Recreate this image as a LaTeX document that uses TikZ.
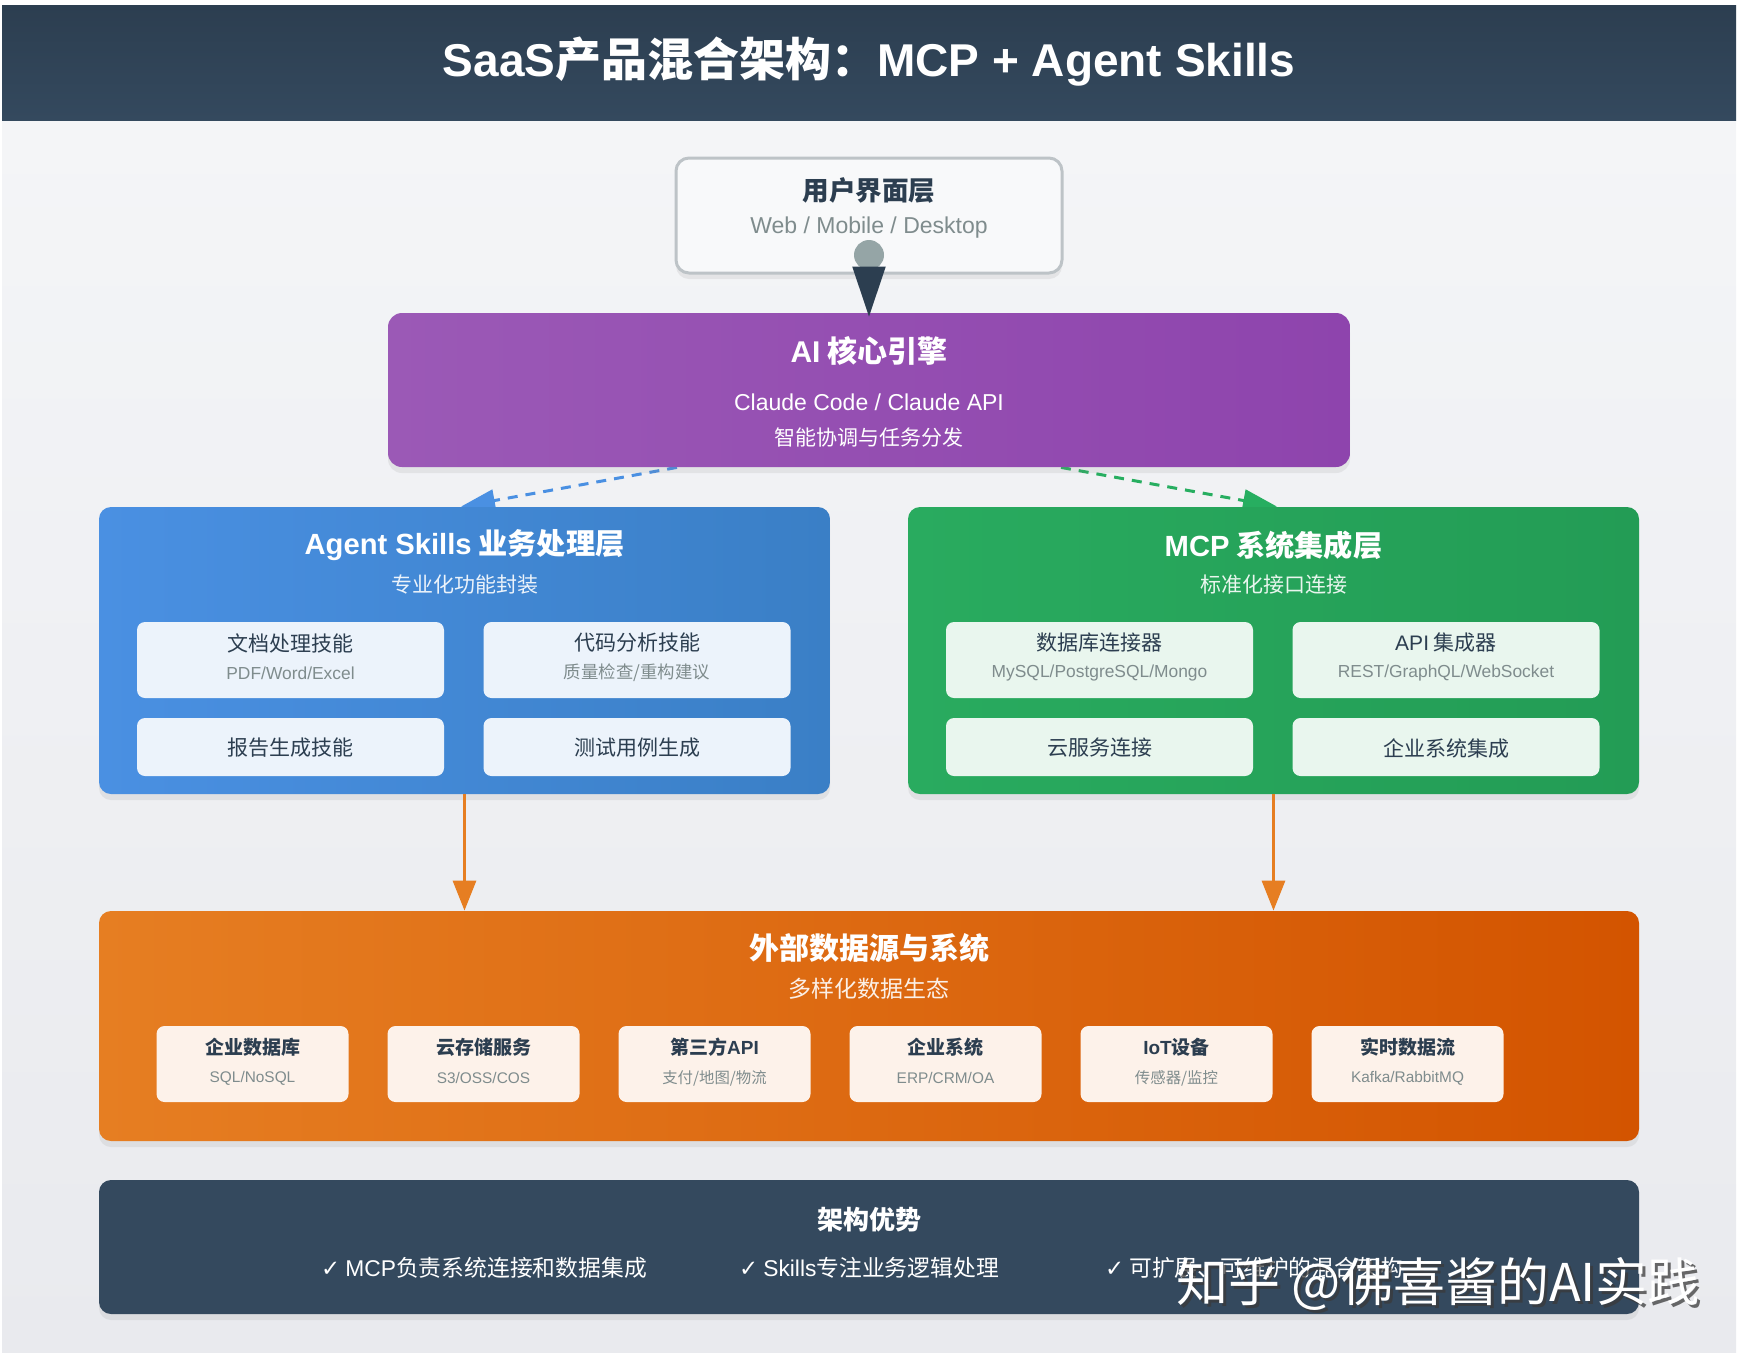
\documentclass[tikz,border=0pt]{standalone}
\usepackage{fontspec}
\setmainfont{Noto Sans CJK SC}
\newfontfamily\symfont{DejaVu Sans}
\newfontfamily\latn{Liberation Sans}
\usetikzlibrary{arrows.meta,shadows,backgrounds}
\definecolor{dark}{HTML}{2C3E50}
\definecolor{darkB}{HTML}{34495E}
\definecolor{graytxt}{HTML}{7F8C8D}
\definecolor{circgray}{HTML}{95A5A6}
\definecolor{uiborder}{HTML}{BDC3C7}
\definecolor{uifill}{HTML}{F8F9FA}
\definecolor{bgtop}{HTML}{F5F6F8}
\definecolor{bgbot}{HTML}{E9EAEE}
\definecolor{purL}{HTML}{9B59B6}
\definecolor{purR}{HTML}{8E44AD}
\definecolor{bluL}{HTML}{4A90E2}
\definecolor{bluR}{HTML}{3A7FC6}
\definecolor{grnL}{HTML}{29AB5F}
\definecolor{grnR}{HTML}{239C55}
\definecolor{orL}{HTML}{E67E22}
\definecolor{orR}{HTML}{D35400}
\definecolor{bluItem}{HTML}{ECF3FB}
\definecolor{grnItem}{HTML}{E9F6EE}
\definecolor{orItem}{HTML}{FDF2EA}
\definecolor{bluLine}{HTML}{4A90E2}
\definecolor{grnLine}{HTML}{27AE60}
\definecolor{orLine}{HTML}{E67E22}
\definecolor{wmshadow}{HTML}{3A3A3A}
\newcommand\fsz[1]{\fontsize{#1pt}{#1pt}\selectfont}
\tikzset{
  shadowed/.style={drop shadow={opacity=0.13, shadow xshift=0pt, shadow yshift=-3pt}},
  uibox/.style={shadowed, rounded corners=6.5pt, draw=uiborder, line width=1.5pt, fill=uifill,
    minimum width=193pt, minimum height=57.5pt, inner sep=0pt},
  corebox/.style={shadowed, rounded corners=7pt, left color=purL, right color=purR, draw=none,
    minimum width=481pt, minimum height=77pt, inner sep=0pt},
  secbox/.style={shadowed, rounded corners=6pt, draw=none,
    minimum width=365.5pt, minimum height=143.5pt, inner sep=0pt},
  widebox/.style={shadowed, rounded corners=6pt, draw=none,
    minimum width=770pt, inner sep=0pt},
  itembox/.style={rounded corners=4pt, draw=none, minimum width=153.5pt, inner sep=0pt},
  exbox/.style={rounded corners=4pt, draw=none, fill=orItem, minimum width=96pt,
    minimum height=38pt, inner sep=0pt},
  txt/.style={inner sep=0pt, anchor=center},
  maintitle/.style={txt, text=white, font=\fsz{23}\bfseries},
  uititle/.style={txt, text=dark, font=\fsz{13.3}\bfseries},
  uisub/.style={txt, text=graytxt, font=\fsz{11.5}},
  sectitle/.style={txt, text=white, font=\fsz{14.6}\bfseries},
  secsub/.style={txt, text=white, text opacity=0.9, font=\fsz{10.5}},
  ittitle/.style={txt, text=dark, font=\fsz{10.5}},
  itsub/.style={txt, text=graytxt, font=\fsz{8.7}},
  extitle/.style={txt, text=dark, font=\fsz{9.5}\bfseries},
  exsub/.style={txt, text=graytxt, font=\fsz{7.7}},
  advtitle/.style={txt, text=white, font=\fsz{13}\bfseries},
  advitem/.style={txt, text=white, font=\fsz{11.4}},
  dashlink/.style={line width=1.5pt, dash pattern=on 5pt off 4pt,
    -{Triangle[length=17pt, width=11pt, sep=0pt]}},
  downlink/.style={line width=1.5pt, color=orLine,
    -{Triangle[length=15pt, width=11.5pt]}},
}
\begin{document}
\begin{tikzpicture}[x=0.5pt, y=-0.5pt]
\useasboundingbox (0,0) rectangle (1742,1356);

% ---------- nodes ----------
\node[uibox] (ui) at (869,215.5) {};
\node[uititle] (uiT) at (869,190) {用户界面层};
\node[uisub] (uiS) at (869,228) {\latn Web / Mobile / Desktop};

\node[corebox] (core) at (869,390) {};
\node[txt, text=white, font=\fsz{15}\bfseries] (coreT) at (869,351) {{\latn AI} 核心引擎};
\node[txt, text=white, font=\fsz{11.5}] (coreS1) at (869,402) {\latn Claude Code / Claude API};
\node[txt, text=white, font=\fsz{10.5}] (coreS2) at (869,437) {智能协调与任务分发};

\node[secbox, left color=bluL, right color=bluR] (agent) at (464.5,650.5) {};
\node[sectitle] (agentT) at (464.5,545) {{\latn Agent Skills} 业务处理层};
\node[secsub] (agentS) at (464.5,585) {专业化功能封装};
\node[itembox, fill=bluItem, minimum height=38pt] (a1) at (290.5,660) {};
\node[itembox, fill=bluItem, minimum height=38pt] (a2) at (637,660) {};
\node[itembox, fill=bluItem, minimum height=29pt] (a3) at (290.5,747) {};
\node[itembox, fill=bluItem, minimum height=29pt] (a4) at (637,747) {};
\node[ittitle] (a1T) at (290.5,643) {文档处理技能};
\node[itsub] (a1S) at (290.5,673) {\latn PDF/Word/Excel};
\node[ittitle] (a2T) at (637,643) {代码分析技能};
\node[itsub] (a2S) at (637,673) {质量检查/重构建议};
\node[ittitle] (a3T) at (290.5,748) {报告生成技能};
\node[ittitle] (a4T) at (637,748) {测试用例生成};

\node[secbox, left color=grnL, right color=grnR] (mcp) at (1273.5,650.5) {};
\node[sectitle] (mcpT) at (1273.5,545) {{\latn MCP} 系统集成层};
\node[secsub] (mcpS) at (1273.5,585) {标准化接口连接};
\node[itembox, fill=grnItem, minimum height=38pt] (m1) at (1099.5,660) {};
\node[itembox, fill=grnItem, minimum height=38pt] (m2) at (1446,660) {};
\node[itembox, fill=grnItem, minimum height=29pt] (m3) at (1099.5,747) {};
\node[itembox, fill=grnItem, minimum height=29pt] (m4) at (1446,747) {};
\node[ittitle] (m1T) at (1099.5,643) {数据库连接器};
\node[itsub] (m1S) at (1099.5,673) {\latn MySQL/PostgreSQL/Mongo};
\node[ittitle] (m2T) at (1446,643) {{\latn API} 集成器};
\node[itsub] (m2S) at (1446,673) {\latn REST/GraphQL/WebSocket};
\node[ittitle] (m3T) at (1099.5,748) {云服务连接};
\node[ittitle] (m4T) at (1446,748) {企业系统集成};

\node[widebox, left color=orL, right color=orR, minimum height=115pt] (ext) at (869,1026) {};
\node[txt, text=white, font=\fsz{15}\bfseries] (extT) at (869,948) {外部数据源与系统};
\node[txt, text=white, text opacity=0.9, font=\fsz{11.5}] (extS) at (869,989) {多样化数据生态};
\foreach \i/\x/\t/\s in {1/252.5/企业数据库/{\latn SQL\slash NoSQL}, 2/483.5/云存储服务/{\latn S3\slash OSS\slash COS},
  3/714.5/第三方{\latn API}/支付\slash 地图\slash 物流, 4/945.5/企业系统/{\latn ERP\slash CRM\slash OA},
  5/1176.5/{\latn IoT}设备/传感器\slash 监控, 6/1407.5/实时数据流/{\latn Kafka\slash RabbitMQ}}{
  \node[exbox] (e\i) at (\x,1064) {};
  \node[extitle] (e\i T) at (\x,1047) {\t};
  \node[exsub] (e\i S) at (\x,1078) {\s};
}

\node[widebox, fill=darkB, minimum height=67pt] (adv) at (869,1247) {};
\node[advtitle] (advT) at (869,1220) {架构优势};
\node[advitem] (adv1) at (484,1268) {{\symfont ✓} {\latn MCP}负责系统连接和数据集成};
\node[advitem] (adv2) at (869,1268) {{\symfont ✓} {\latn Skills}专注业务逻辑处理};
\node[advitem] (adv3) at (1254,1268) {{\symfont ✓} 可扩展、可维护的混合架构};

% watermark
\node[txt, text=wmshadow, text opacity=0.75, font=\fsz{26}] (wmS) at (1441,1287) {知乎 @佛喜酱的AI实践};
\node[txt, text=white, font=\fsz{26}] (wm) at (1438,1284) {知乎 @佛喜酱的AI实践};

% ---------- background and links behind boxes ----------
\begin{scope}[on background layer]
  \fill[top color=bgtop, bottom color=bgbot] (2,5) rectangle (1736,1352);
  \fill[top color=dark, bottom color=darkB] (2,5) rectangle (1736,120);
  \node[maintitle] (title) at (869,62) {{\latn SaaS}产品混合架构：{\latn MCP + Agent Skills}};
  \draw[dashlink, color=bluLine] ([xshift=-96pt]core.south) -- ([xshift=-1.75pt]agent.north);
  \draw[dashlink, color=grnLine] ([xshift=96pt]core.south) -- ([xshift=1.75pt]mcp.north);
\end{scope}

% ---------- links in front ----------
\coordinate (uiport) at (869,240);
\draw[line width=1pt, color=dark,
  {Circle[length=15pt, width=15pt, color=circgray, fill=circgray]}-{Triangle[length=25pt, width=16.5pt, color=dark, fill=dark]}]
  (uiport) -- ([yshift=-2pt]core.north);
\draw[downlink] (agent.south) -- (agent.south |- ext.north);
\draw[downlink] (mcp.south) -- (mcp.south |- ext.north);
\end{tikzpicture}
\end{document}
